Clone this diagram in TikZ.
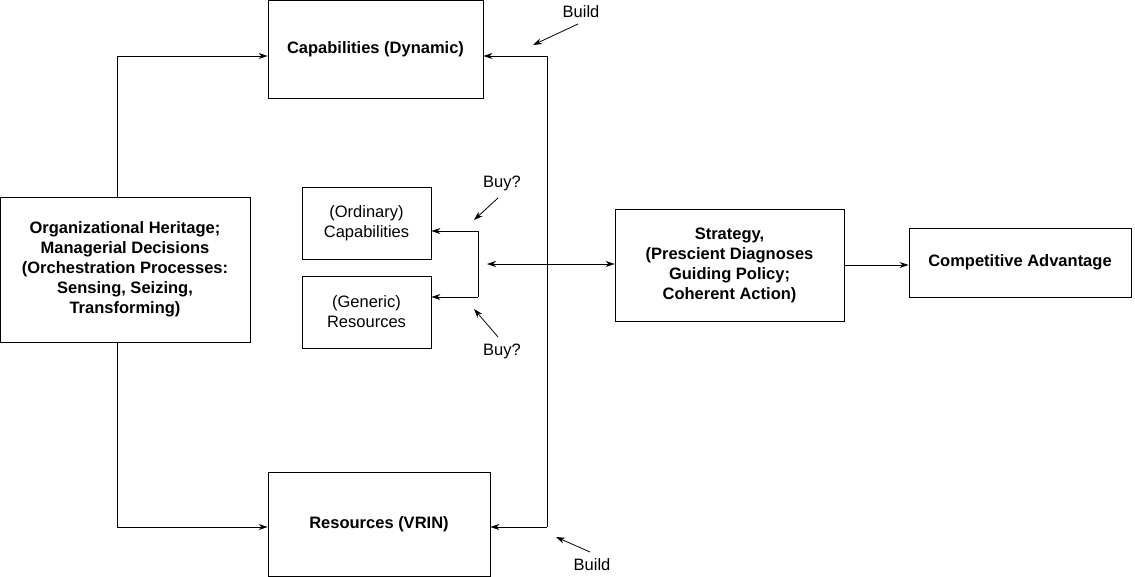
\documentclass[tikz,border=0pt]{standalone}
\usepackage{fontspec}
\setmainfont{Liberation Sans}
\usetikzlibrary{arrows.meta}
\begin{document}
\begin{tikzpicture}[x=1pt,y=-1pt,
 box/.style={draw,line width=0.9pt,align=center,inner sep=2pt,font=\fontsize{16.5}{20}\selectfont\bfseries},
 sbox/.style={draw,line width=0.9pt,align=center,inner sep=2pt,font=\fontsize{16.5}{20}\selectfont},
 lab/.style={font=\fontsize{16.5}{20}\selectfont},
 arr/.style={line width=0.8pt,-{Stealth[length=9pt,width=6pt]}},
 darr/.style={line width=0.8pt,{Stealth[length=9pt,width=6pt]}-{Stealth[length=9pt,width=6pt]}},
 ln/.style={line width=0.8pt}]
\useasboundingbox (0,0) rectangle (1135,576);
\node[box,minimum width=215pt,minimum height=98pt] (cap) at (375.5,49.5) {Capabilities (Dynamic)};
\node[box,minimum width=250pt,minimum height=145pt] (org) at (125,269.5) {Organizational Heritage;\\Managerial Decisions\\(Orchestration Processes:\\Sensing, Seizing,\\Transforming)};
\node[sbox,minimum width=129pt,minimum height=72pt] (ord) at (366.5,223) {(Ordinary)\\Capabilities};
\node[sbox,minimum width=129pt,minimum height=72pt] (gen) at (366.5,312) {(Generic)\\Resources};
\node[box,minimum width=229pt,minimum height=112pt] (str) at (729.5,265) {Strategy,\\(Prescient Diagnoses\\Guiding Policy;\\Coherent Action)};
\node[box,minimum width=222pt,minimum height=69pt] (ca) at (1020,262.5) {Competitive Advantage};
\node[box,minimum width=222pt,minimum height=104pt] (res) at (379,524) {Resources (VRIN)};
\coordinate (ot) at (117,56); \coordinate (ob) at (117,527);
\draw[arr] (org.north -| ot) -- (ot) -- (cap.west |- ot);
\draw[arr] (org.south -| ob) -- (ob) -- (res.west |- ob);
\coordinate (vt) at (547,56); \coordinate (vb) at (547,527);
\draw[ln] (vt) -- (vb);
\draw[arr] (vt) -- (cap.east |- vt);
\draw[arr] (vb) -- (res.east |- vb);
\coordinate (bt) at (478,231); \coordinate (bb) at (478,297);
\draw[ln] (bt) -- (bb);
\draw[arr] (bt) -- (ord.east |- bt);
\draw[arr] (bb) -- (gen.east |- bb);
\coordinate (dl) at (487,264);
\draw[darr] (dl) -- (str.west |- dl);
\draw[arr] (str.east |- 0,265) -- (ca.west |- 0,265);
\node[lab] (b1) at (581,12) {Build};
\node[lab] (b2) at (592,565) {Build};
\node[lab] (y1) at (502,183) {Buy?};
\node[lab] (y2) at (502,351) {Buy?};
\coordinate (b1e) at (533,45); \coordinate (b2e) at (556,537);
\coordinate (y1e) at (474,220); \coordinate (y2e) at (474,309);
\draw[arr] (578,24) -- (b1e);
\draw[arr] (590,552) -- (b2e);
\draw[arr] (498,198) -- (y1e);
\draw[arr] (498,337) -- (y2e);
\end{tikzpicture}
\end{document}
